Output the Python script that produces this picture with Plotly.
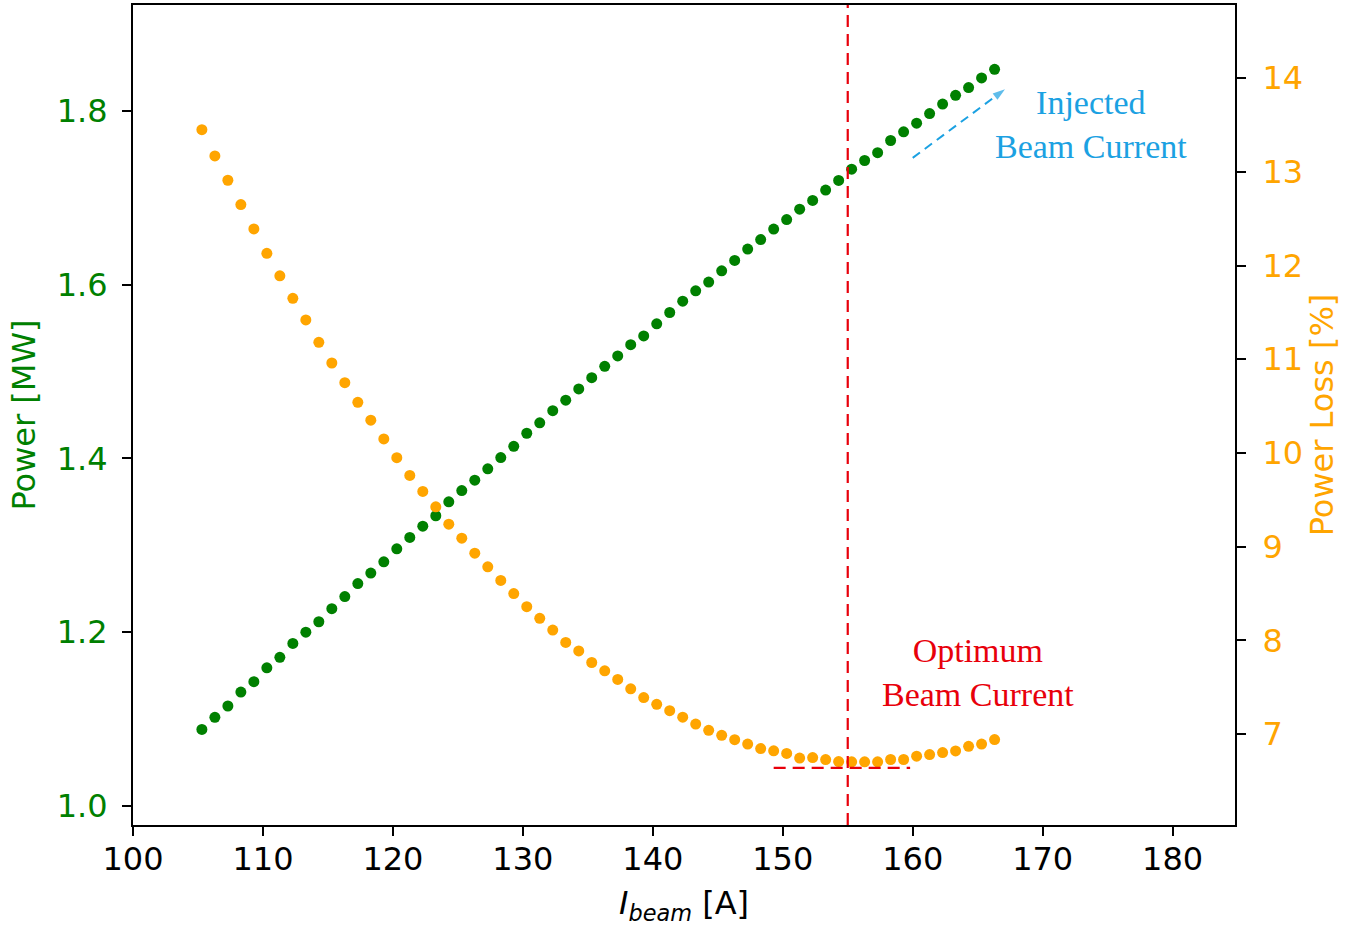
import plotly.graph_objects as go

# Beam current [A]
i_beam = [105.3, 106.3, 107.3, 108.3, 109.3, 110.3, 111.3, 112.3, 113.3, 114.3,
          115.3, 116.3, 117.3, 118.3, 119.3, 120.3, 121.3, 122.3, 123.3, 124.3,
          125.3, 126.3, 127.3, 128.3, 129.3, 130.3, 131.3, 132.3, 133.3, 134.3,
          135.3, 136.3, 137.3, 138.3, 139.3, 140.3, 141.3, 142.3, 143.3, 144.3,
          145.3, 146.3, 147.3, 148.3, 149.3, 150.3, 151.3, 152.3, 153.3, 154.3,
          155.3, 156.3, 157.3, 158.3, 159.3, 160.3, 161.3, 162.3, 163.3, 164.3,
          165.3, 166.3]

# Injected power [MW]
power_mw = [1.088, 1.102, 1.115, 1.131, 1.143, 1.159, 1.171, 1.187, 1.200, 1.212,
            1.227, 1.241, 1.256, 1.268, 1.281, 1.296, 1.309, 1.322, 1.334, 1.350,
            1.363, 1.375, 1.388, 1.401, 1.414, 1.429, 1.441, 1.455, 1.467, 1.480,
            1.493, 1.506, 1.518, 1.531, 1.541, 1.555, 1.568, 1.581, 1.593, 1.603,
            1.616, 1.628, 1.641, 1.652, 1.664, 1.675, 1.687, 1.697, 1.709, 1.720,
            1.733, 1.743, 1.752, 1.766, 1.776, 1.786, 1.797, 1.808, 1.818, 1.827,
            1.838, 1.848]

# Power loss [%]
power_loss = [13.45, 13.17, 12.91, 12.65, 12.39, 12.13, 11.89, 11.65, 11.42, 11.18,
              10.96, 10.75, 10.54, 10.35, 10.15, 9.95, 9.76, 9.59, 9.425, 9.24,
              9.09, 8.93, 8.785, 8.64, 8.50, 8.36, 8.235, 8.11, 7.978, 7.888,
              7.764, 7.675, 7.583, 7.483, 7.39, 7.318, 7.25, 7.18, 7.107, 7.04,
              6.987, 6.941, 6.894, 6.845, 6.821, 6.794, 6.744, 6.75, 6.728, 6.707,
              6.704, 6.704, 6.704, 6.729, 6.729, 6.764, 6.782, 6.803, 6.82, 6.87,
              6.893, 6.942]

x_ticks = [100, 110, 120, 130, 140, 150, 160, 170, 180]
y1_ticks = [1.0, 1.2, 1.4, 1.6, 1.8]
y1_ticklabels = ["1.0", "1.2", "1.4", "1.6", "1.8"]
y2_ticks = [7, 8, 9, 10, 11, 12, 13, 14]

optimum_current = 155
optimum_loss_level = 6.64
optimum_span = [149.3, 159.8]

# trend arrow for injected beam current (start, end)
arrow_x = [160.0, 167.1]
arrow_y = [1.746, 1.825]

GREEN = "green"
ORANGE = "orange"
RED = "#E8000B"
BLUE = "#1BA1E2"
TICK_SIZE = 32
TITLE_FONT_SIZE = 32

fig = go.Figure()

fig.add_trace(go.Scatter(
    x=i_beam, y=power_mw, mode="markers", yaxis="y",
    marker=dict(color=GREEN, size=11, line=dict(width=0)),
    name="Power", showlegend=False))

fig.add_trace(go.Scatter(
    x=i_beam, y=power_loss, mode="markers", yaxis="y2",
    marker=dict(color=ORANGE, size=11, line=dict(width=0)),
    name="Power Loss", showlegend=False))

# dashed arrow with arrow head
fig.add_trace(go.Scatter(
    x=arrow_x, y=arrow_y, mode="lines+markers", yaxis="y",
    line=dict(color=BLUE, width=2, dash="9px,6px"),
    marker=dict(symbol=["circle", "arrow"], size=[0, 13], color=BLUE,
                angleref="previous", line=dict(width=0)),
    hoverinfo="skip", showlegend=False))

# optimum markers
fig.add_shape(type="line", xref="x", yref="paper",
              x0=optimum_current, x1=optimum_current, y0=0, y1=1,
              line=dict(color=RED, width=2.2, dash="12px,7px"), layer="above")
fig.add_shape(type="line", xref="x", yref="y2",
              x0=optimum_span[0], x1=optimum_span[1],
              y0=optimum_loss_level, y1=optimum_loss_level,
              line=dict(color=RED, width=2.2, dash="12px,7px"), layer="above")

fig.add_annotation(x=173.7, y=1.7845, xref="x", yref="y",
                   text="Injected<br>Beam Current", showarrow=False,
                   font=dict(family="Liberation Serif", size=34, color=BLUE),
                   align="center")
fig.add_annotation(x=165.0, y=1.154, xref="x", yref="y",
                   text="Optimum<br>Beam Current", showarrow=False,
                   font=dict(family="Liberation Serif", size=34, color=RED),
                   align="center")

fig.update_layout(
    width=1350, height=930,
    margin=dict(l=133, r=115, t=5, b=105, autoexpand=False),
    plot_bgcolor="white", paper_bgcolor="white",
    xaxis=dict(
        range=[100, 184.8], tickvals=x_ticks, ticks="outside", ticklen=9,
        tickwidth=1.5, tickcolor="black", showline=True, linecolor="black",
        linewidth=2, mirror=True, showgrid=False, zeroline=False,
        tickfont=dict(family="DejaVu Sans", size=TICK_SIZE, color="black"),
        ticklabelstandoff=-4,
        title=dict(text="<i>I</i><sub><i>beam</i></sub> [A]",
                   font=dict(family="DejaVu Sans", size=TITLE_FONT_SIZE, color="black"),
                   standoff=14)),
    yaxis=dict(
        range=[0.978, 1.922], tickvals=y1_ticks, ticktext=y1_ticklabels,
        ticks="outside", ticklen=9, tickwidth=1.5, tickcolor="black",
        showline=True, linecolor="black", linewidth=2, showgrid=False,
        zeroline=False,
        tickfont=dict(family="DejaVu Sans", size=TICK_SIZE, color=GREEN),
        ticklabelstandoff=8,
        title=dict(text="Power [MW]",
                   font=dict(family="DejaVu Sans", size=TITLE_FONT_SIZE, color=GREEN),
                   standoff=12)),
    yaxis2=dict(
        range=[6.03, 14.78], tickvals=y2_ticks, overlaying="y", side="right",
        ticks="outside", ticklen=9, tickwidth=1.5, tickcolor="black",
        showline=True, linecolor="black", linewidth=2, showgrid=False,
        zeroline=False,
        tickfont=dict(family="DejaVu Sans", size=TICK_SIZE, color=ORANGE),
        ticklabelstandoff=10,
        title=dict(text="Power Loss [%]",
                   font=dict(family="DejaVu Sans", size=TITLE_FONT_SIZE, color=ORANGE),
                   standoff=4)),
)

fig.write_html("out.html")
